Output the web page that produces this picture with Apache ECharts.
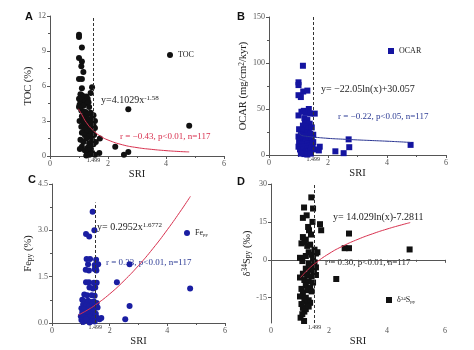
<!DOCTYPE html>
<html>
<head>
<meta charset="utf-8">
<script src="https://cdn.jsdelivr.net/npm/echarts@6/dist/echarts.min.js"></script>
<style>
html, body { margin: 0; padding: 0; background: #fff; }
#chart { width: 474px; height: 350px; }
</style>
</head>
<body>
<div id="chart"></div>
<script>
'use strict';

var SERIF = 'Liberation Serif';
var RED = '#d8304e';

// [SRI, TOC %]
var tocPoints = [
    [1.00, 10.4], [1.00, 10.2], [1.10, 9.3], [1.00, 8.4], [1.10, 8.1], [1.08, 7.7], [1.15, 7.2],
    [1.00, 6.6], [1.10, 6.6], [1.10, 5.8], [1.45, 5.9], [1.40, 5.4],
    [1.05, 5.3], [1.10, 5.2], [1.15, 5.1], [1.20, 5.0], [1.25, 5.1], [1.30, 4.9], [1.00, 4.9],
    [1.05, 4.7], [1.12, 4.8], [1.18, 4.6], [1.22, 4.7], [1.28, 4.5], [1.33, 4.6], [1.02, 4.4],
    [1.15, 4.3], [1.35, 4.2], [1.00, 4.2],
    [1.08, 3.9], [1.20, 3.8], [1.25, 3.7], [1.30, 3.6], [1.40, 3.7], [1.50, 3.5], [1.10, 3.4],
    [1.18, 3.3], [1.28, 3.2], [1.35, 3.1], [1.45, 3.3], [1.55, 3.0], [1.02, 3.0], [1.15, 2.9],
    [1.22, 2.8], [1.32, 2.7], [1.42, 2.8], [1.50, 2.6], [1.08, 2.5], [1.25, 2.4], [1.38, 2.3],
    [1.48, 2.2], [1.55, 2.4], [1.18, 2.2], [1.30, 2.1], [1.10, 2.0], [1.42, 1.9], [1.52, 1.8],
    [1.20, 1.8], [1.35, 1.7],
    [1.05, 1.4], [1.25, 1.5], [1.45, 1.4], [1.58, 1.2], [1.15, 1.2], [1.35, 1.1], [1.50, 1.0],
    [1.72, 1.5], [1.10, 0.8], [1.30, 0.7], [1.40, 0.8], [1.20, 0.5], [1.32, 0.4], [1.38, 0.5],
    [1.45, 0.3], [1.03, 0.6], [1.28, 0.2], [1.35, 0.1], [1.40, 0.15], [1.25, 0.05], [1.70, 0.25],
    [1.55, 0.1],
    [2.25, 0.8], [2.55, 0.1], [2.70, 0.35], [2.70, 4.0], [4.80, 2.6]
];
var tocFit = [
    [0.98, 4.05], [1.10, 3.53], [1.25, 2.88], [1.50, 2.16], [1.75, 1.69], [2.00, 1.37],
    [2.50, 0.96], [3.00, 0.72], [3.50, 0.57], [4.00, 0.46], [4.50, 0.38], [4.80, 0.35]
];

// [SRI, OCAR mg/cm2/kyr]
var ocarPoints = [
    [1.11, 152], [1.15, 97], [1.00, 79], [1.00, 76], [1.16, 69], [1.30, 70], [1.00, 65], [1.08, 63],
    [1.00, 43], [1.10, 47], [1.18, 48], [1.25, 46], [1.35, 50], [1.40, 45], [1.20, 40], [1.30, 38],
    [1.22, 35], [1.38, 34], [1.15, 32], [1.28, 31], [1.02, 28], [1.10, 27], [1.35, 29], [1.45, 30],
    [1.18, 25], [1.30, 24], [1.40, 23], [1.00, 20], [1.08, 22], [1.22, 21], [1.50, 22], [1.12, 18],
    [1.28, 18], [1.35, 17], [1.45, 16], [1.02, 15], [1.18, 14], [1.25, 15], [1.40, 13], [1.50, 14],
    [1.05, 12], [1.15, 11], [1.30, 12], [1.38, 10], [1.48, 11], [1.00, 9], [1.10, 8], [1.22, 9],
    [1.32, 7], [1.45, 8], [1.55, 6], [1.05, 6], [1.18, 5], [1.28, 4], [1.40, 5], [1.12, 3],
    [1.25, 2], [1.35, 2.5], [1.20, 1], [1.30, 0.5], [1.42, 1.5], [1.08, 1.5],
    [1.55, 45], [1.72, 9], [1.69, 5], [2.25, 4], [2.53, 2], [2.70, 17], [2.72, 8.5], [4.80, 11]
];
var ocarFit = [
    [1.00, 25], [1.05, 22.5], [1.10, 21.3], [1.30, 20.2], [1.50, 19.5], [2.00, 18.1],
    [2.50, 17.2], [3.00, 16.4], [3.50, 15.7], [4.00, 15.0], [4.50, 14.2], [4.80, 13.6]
];

// [SRI, Fe_py %]
var fePoints = [
    [1.41, 3.6], [1.47, 3.0], [1.18, 2.88], [1.29, 2.8],
    [1.20, 2.07], [1.32, 2.07], [1.53, 2.05], [1.25, 1.9], [1.48, 1.88], [1.60, 1.9], [1.17, 1.72],
    [1.28, 1.7], [1.48, 1.74], [1.54, 1.7], [1.52, 1.8],
    [1.18, 1.32], [1.28, 1.32], [1.45, 1.3], [1.55, 1.3], [1.30, 1.15], [1.42, 1.12], [1.50, 1.15],
    [1.12, 0.92], [1.22, 0.9], [1.38, 0.9], [1.48, 0.88],
    [1.05, 0.75], [1.15, 0.7], [1.25, 0.72], [1.35, 0.68], [1.45, 0.7], [1.55, 0.65], [1.08, 0.6],
    [1.20, 0.58], [1.30, 0.55], [1.40, 0.6], [1.50, 0.52], [1.58, 0.5], [1.02, 0.48], [1.12, 0.45],
    [1.25, 0.42], [1.35, 0.45], [1.45, 0.4], [1.05, 0.35], [1.18, 0.32], [1.28, 0.3], [1.40, 0.28],
    [1.52, 0.3], [1.00, 0.22], [1.10, 0.2], [1.22, 0.18], [1.32, 0.2], [1.45, 0.15], [1.55, 0.18],
    [1.02, 0.1], [1.15, 0.08], [1.25, 0.1], [1.38, 0.06], [1.48, 0.05], [1.08, 0.03], [1.30, 0.02],
    [1.18, 0.12],
    [2.69, 1.9], [2.25, 1.32], [2.69, 0.55], [2.54, 0.12], [4.79, 1.12], [1.71, 0.16], [1.65, 0.12]
];
var feFit = [
    [0.92, 0.26], [1.00, 0.30], [1.25, 0.43], [1.50, 0.58], [2.00, 0.94], [2.50, 1.37],
    [3.00, 1.86], [3.50, 2.41], [4.00, 3.02], [4.50, 3.68], [4.80, 4.10]
];

// [SRI, d34S_py permil]
var sulfurPoints = [
    [1.39, 24.7], [1.14, 20.7], [1.45, 20.3], [1.23, 17.6], [1.10, 16.6], [1.43, 15], [1.69, 14.1],
    [1.73, 11.7], [1.31, 11.7], [1.28, 13], [1.10, 9], [1.20, 8], [1.38, 10], [1.05, 6.5],
    [1.15, 7], [1.25, 5.5], [1.35, 6], [1.50, 4], [1.30, 3], [1.40, 2], [1.55, 2.5], [1.60, 3],
    [1.20, 1.5], [1.00, 0.8], [1.08, -0.5], [1.45, 0.5], [1.50, -1], [1.30, -1.5], [1.40, -2.5],
    [1.55, -3], [1.20, -3.5], [1.35, -4], [1.48, -5], [1.10, -5.5], [1.25, -6], [1.40, -6.5],
    [1.55, -6], [1.00, -7], [1.15, -8], [1.30, -8.5], [1.45, -9], [1.20, -10], [1.35, -11],
    [1.05, -11.5], [1.25, -12], [1.40, -12.5], [1.10, -13], [1.00, -14.5], [1.20, -15],
    [1.30, -16], [1.15, -16.5], [1.35, -17], [1.05, -17.5], [1.25, -18], [1.10, -19],
    [1.20, -19.5], [1.30, -18.5], [1.15, -20.5], [1.02, -22.9], [1.14, -24.2], [1.08, -21.5],
    [2.69, 10.4], [2.54, 4.6], [2.69, 4.6], [4.78, 4.1], [2.25, -7.6]
];
var sulfurFit = [
    [1.02, -7.0], [1.10, -5.94], [1.25, -4.15], [1.50, -1.59], [2.00, 2.44], [2.50, 5.57],
    [3.00, 8.13], [3.50, 10.29], [4.00, 12.17], [4.50, 13.82], [4.80, 14.73]
];

var sriTicks = [0, 2, 4, 6];
var sulfurTicks = [-15, 0, 15, 30];

function richSet(size) {
    return {
        n: { fontFamily: SERIF, fontSize: size },
        sup: { fontFamily: SERIF, fontSize: size - 3, verticalAlign: 'top' },
        sub: { fontFamily: SERIF, fontSize: size - 3, verticalAlign: 'bottom' }
    };
}

function xAxisFor(gridIndex) {
    return {
        gridIndex: gridIndex,
        type: 'value',
        min: sriTicks[0],
        max: sriTicks[sriTicks.length - 1],
        interval: 2,
        name: 'SRI',
        nameLocation: 'middle',
        nameGap: 11,
        nameTextStyle: { fontFamily: SERIF, fontSize: 10.5, color: '#222' },
        axisLine: { lineStyle: { color: '#555', width: 1 } },
        axisTick: { length: 3, lineStyle: { color: '#555' } },
        minorTick: { show: true, splitNumber: 2, length: 2, lineStyle: { color: '#555' } },
        axisLabel: { fontFamily: SERIF, fontSize: 8, color: '#555', margin: 4 },
        splitLine: { show: false }
    };
}

function yAxisFor(gridIndex, min, max, interval, name, gap, labelFmt) {
    return {
        gridIndex: gridIndex,
        type: 'value',
        min: min,
        max: max,
        interval: interval,
        name: name,
        nameLocation: 'middle',
        nameGap: gap,
        nameTextStyle: { fontFamily: SERIF, fontSize: 10.5, color: '#222', rich: richSet(10.5) },
        axisLine: { show: true, lineStyle: { color: '#555', width: 1 } },
        axisTick: { show: true, length: 3, lineStyle: { color: '#555' } },
        minorTick: { show: true, splitNumber: 2, length: 2, lineStyle: { color: '#555' } },
        axisLabel: { fontFamily: SERIF, fontSize: 8, color: '#555', margin: 4, formatter: labelFmt },
        splitLine: { show: false }
    };
}

function dashedMark(top) {
    var data = top == null ? [{ xAxis: 1.499 }] : [[{ coord: [1.499, 0] }, { coord: [1.499, top] }]];
    return {
        symbol: 'none',
        silent: true,
        animation: false,
        lineStyle: { type: [3, 2], color: '#333', width: 1 },
        label: { show: true, position: 'start', formatter: '1.499', fontFamily: SERIF, fontSize: 6, color: '#333', distance: 1 },
        emphasis: { disabled: true },
        data: data
    };
}

function scatter(name, idx, points, symbol, color, markTop) {
    return {
        type: 'scatter',
        name: name,
        xAxisIndex: idx,
        yAxisIndex: idx,
        data: points,
        symbol: symbol,
        symbolSize: 6,
        itemStyle: { color: color, opacity: 1 },
        markLine: dashedMark(markTop),
        z: 3
    };
}

function fitLine(idx, points, color) {
    return {
        type: 'line',
        xAxisIndex: idx,
        yAxisIndex: idx,
        data: points,
        smooth: true,
        symbol: 'none',
        silent: true,
        lineStyle: { color: color, width: 1 },
        z: 4
    };
}

function legendFor(name, left, top, icon, fmt) {
    return {
        data: [name],
        left: left,
        top: top,
        padding: 0,
        icon: icon,
        itemWidth: 6,
        itemHeight: 6,
        itemGap: 4,
        selectedMode: false,
        formatter: fmt,
        textStyle: { fontFamily: SERIF, fontSize: 8, color: '#222', rich: richSet(8) }
    };
}

function note(x, y, text, color, size) {
    return {
        type: 'text',
        x: x,
        y: y,
        silent: true,
        style: {
            text: text,
            fill: color,
            font: size + 'px "' + SERIF + '"',
            verticalAlign: 'middle',
            rich: richSet(size)
        }
    };
}

function letter(x, y, text) {
    return {
        type: 'text',
        x: x,
        y: y,
        silent: true,
        style: { text: text, fill: '#111', font: 'bold 11px "Liberation Sans"', align: 'center', verticalAlign: 'middle' }
    };
}

var chart = echarts.init(document.getElementById('chart'), null, { renderer: 'canvas' });

var option = {
    animation: false,
    backgroundColor: '#fff',
    grid: [
        { left: 50, top: 16, width: 174, height: 140 },
        { left: 269, top: 17, width: 177, height: 138 },
        { left: 52, top: 184, width: 173, height: 139 },
        { left: 271, top: 184, width: 174, height: 139 }
    ],
    xAxis: [xAxisFor(0), xAxisFor(1), xAxisFor(2), xAxisFor(3)],
    yAxis: [
        yAxisFor(0, 0, 12, 3, 'TOC (%)', 14),
        yAxisFor(1, 0, 150, 50, 'OCAR (mg/cm{sup|2}/kyr)', 16),
        yAxisFor(2, 0, 4.5, 1.5, 'Fe{sub|py} (%)', 18, function (v) { return v.toFixed(1); }),
        yAxisFor(3, -25, 30, 15, '{n|δ}{sup|34}{n|S}{sub|py} (‰)', 18)
    ],
    legend: [
        legendFor('TOC', 167, 51, 'circle'),
        legendFor('OCAR', 388, 47, 'rect'),
        legendFor('Fe_py', 184, 229, 'circle', function () { return '{n|Fe}{sub|py}'; }),
        legendFor('d34S_py', 386, 296, 'rect', function () { return '{n|δ}{sup|34}{n|S}{sub|py}'; })
    ],
    series: [
        scatter('TOC', 0, tocPoints, 'circle', '#111'),
        fitLine(0, tocFit, RED),
        scatter('OCAR', 1, ocarPoints, 'rect', '#1414a0'),
        fitLine(1, ocarFit, '#2a3592'),
        scatter('Fe_py', 2, fePoints, 'circle', '#1a1ea2', 3.9),
        fitLine(2, feFit, RED),
        scatter('d34S_py', 3, sulfurPoints, 'rect', '#111'),
        fitLine(3, sulfurFit, RED)
    ],
    graphic: [
        letter(29, 17, 'A'),
        letter(241, 17, 'B'),
        letter(32, 180, 'C'),
        letter(241, 182, 'D'),
        note(101, 100, 'y=4.1029x{sup|-1.58}', '#222', 10),
        note(120, 137, 'r = −0.43, p<0.01, n=117', RED, 9),
        note(321, 89, 'y= −22.05ln(x)+30.057', '#222', 10),
        note(338, 117, 'r = −0.22, p<0.05, n=117', '#2b3a94', 9),
        note(97, 227, 'y= 0.2952x{sup|1.6772}', '#222', 10),
        note(106, 263, 'r = 0.33, p<0.01, n=117', '#2b3a94', 9),
        note(333, 217, 'y= 14.029ln(x)-7.2811', '#222', 10),
        note(325, 263, 'r = 0.30, p<0.01, n=117', '#222', 9)
    ]
};

// D axis: labels only at the round values, the bottom edge stays unlabelled
option.yAxis[3].axisLabel.customValues = sulfurTicks;
option.yAxis[3].axisTick.customValues = sulfurTicks;
option.yAxis[3].minorTick.show = false;

chart.setOption(option);
</script>
</body>
</html>
